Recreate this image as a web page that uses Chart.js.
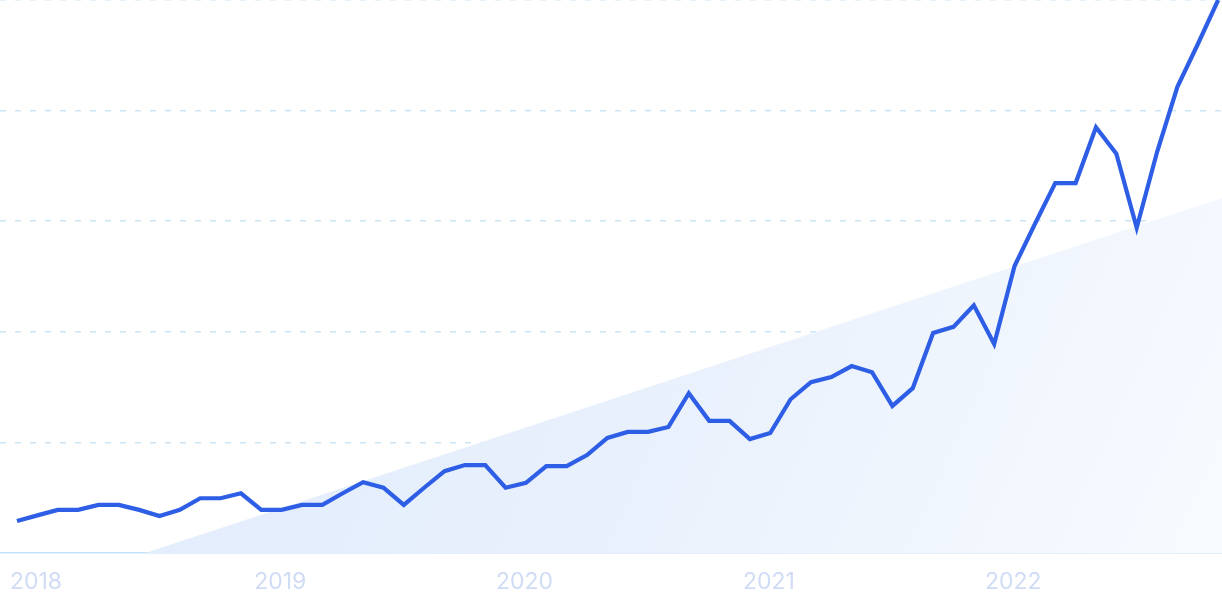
<!DOCTYPE html>
<html>
<head>
<meta charset="utf-8">
<script src="https://cdn.jsdelivr.net/npm/chart.js@4.4.0/dist/chart.umd.min.js"></script>
<style>
  html, body { margin: 0; padding: 0; background: #fff; }
  #wrap { width: 1222px; height: 610px; position: relative; }
</style>
</head>
<body>
<div id="wrap"><canvas id="chart"></canvas></div>
<script>
// monthly values, Jan 2018 .. Dec 2022 (index 0..59)
const monthIndex = Array.from({ length: 60 }, (_, i) => i);
const values = [
  5.8, 6.8, 7.8, 7.8, 8.7, 8.7, 7.8, 6.7, 7.8, 9.9, 9.9, 10.8,
  7.8, 7.8, 8.7, 8.7, 10.8, 12.8, 11.8, 8.7, 11.8, 14.8, 15.9, 15.9,
  11.8, 12.7, 15.7, 15.7, 17.7, 20.8, 21.9, 21.9, 22.8, 28.9, 23.9, 23.9,
  20.6, 21.7, 27.8, 30.9, 31.8, 33.8, 32.7, 26.6, 29.8, 39.8, 40.9, 44.8,
  37.8, 51.9, 59.5, 66.9, 66.9, 77.0, 72.2, 58.8, 72.5, 84.3, 92.0, 100
];
// year tick positions (month index) and their labels
const yearTicks = [0, 12, 24, 36, 48];
const yearLabels = ['2018', '2019', '2020', '2021', '2022'];
// trend area: [month index, value]
const trendX = [6.3, 59.19];
const trendY = [0, 64.2];

const lineData = monthIndex.map((m, i) => ({ x: m, y: values[i] }));
const trendData = trendX.map((x, i) => ({ x: x, y: trendY[i] }));

function trendFill(ctx) {
  const chart = ctx.chart;
  const a = chart.chartArea;
  if (!a) return 'rgba(225,236,251,0.8)';
  const g = chart.ctx.createLinearGradient(a.left, a.top, a.right, a.bottom);
  g.addColorStop(0, 'rgba(222,234,251,1)');
  g.addColorStop(0.55, 'rgba(232,240,252,1)');
  g.addColorStop(1, 'rgba(248,251,255,1)');
  return g;
}

new Chart(document.getElementById('chart'), {
  type: 'line',
  data: {
    datasets: [
      {
        data: lineData,
        borderColor: '#2d5ee5',
        borderWidth: 4.2,
        pointRadius: 0,
        tension: 0,
        fill: false
      },
      {
        data: trendData,
        borderWidth: 0,
        borderColor: 'rgba(0,0,0,0)',
        backgroundColor: trendFill,
        pointRadius: 0,
        fill: 'origin'
      }
    ]
  },
  options: {
    responsive: true,
    maintainAspectRatio: false,
    devicePixelRatio: 1,
    animation: false,
    layout: { padding: 0, autoPadding: false },
    plugins: { legend: { display: false }, tooltip: { enabled: false } },
    scales: {
      x: {
        type: 'linear',
        min: -0.835,
        max: 59.19,
        afterBuildTicks: s => { s.ticks = yearTicks.map(v => ({ value: v })); },
        afterFit: s => { s.height = 57; s.paddingLeft = 0; s.paddingRight = 0; },
        grid: { display: false, drawTicks: false },
        border: { display: true, color: '#c4e2fa', width: 1.5 },
        ticks: {
          autoSkip: false,
          maxRotation: 0,
          padding: 15,
          labelOffset: 19,
          color: '#d0dbf5',
          font: { family: 'Inter', size: 23 },
          callback: v => yearLabels[yearTicks.indexOf(v)]
        }
      },
      y: {
        min: 0,
        max: 100,
        afterFit: s => { s.width = 0; },
        ticks: { display: false, stepSize: 20, padding: 0 },
        border: { display: false, dash: [6, 9] },
        grid: {
          drawTicks: false,
          lineWidth: 1.5,
          color: c => c.tick && c.tick.value === 0 ? 'rgba(0,0,0,0)' : '#cbe5f4'
        }
      }
    }
  }
});
</script>
</body>
</html>
